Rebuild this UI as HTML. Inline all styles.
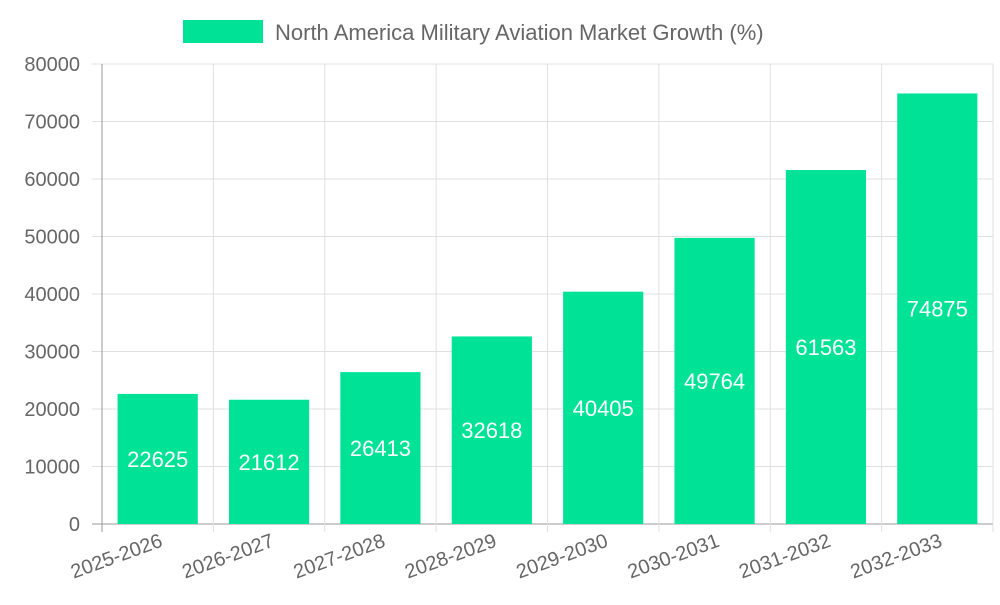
<!DOCTYPE html>
<html><head><meta charset="utf-8"><style>
body{margin:0;background:#fff;font-family:"Liberation Sans",sans-serif}
svg text{font-family:"Liberation Sans",sans-serif}
</style></head><body>
<svg id="c" width="1000" height="600">
<g>
<rect x="183" y="20" width="80" height="23" fill="#00e396"/>
<text x="275" y="40" font-size="22" fill="#666">North America Military Aviation Market Growth (%)</text>
</g>
</svg>
<script>
const categories=["2025-2026","2026-2027","2027-2028","2028-2029","2029-2030","2030-2031","2031-2032","2032-2033"];
const values=[22625,21612,26413,32618,40405,49764,61563,74875];
const yTicks=[0,10000,20000,30000,40000,50000,60000,70000,80000];
const svg=document.getElementById('c');
const NS='http://www.w3.org/2000/svg';
const L=102,R=993,T=64,B=524,yMax=80000;
const bw=(R-L)/categories.length;
const y=v=>B-(v/yMax)*(B-T);
const x=i=>L+bw*i;
function mk(t,a,p){const e=document.createElementNS(NS,t);for(const k in a)e.setAttribute(k,a[k]);(p||svg).appendChild(e);return e;}
const grid=mk('g',{});


yTicks.forEach(v=>{
 const l=mk('line',{x1:L-10,x2:R,y1:y(v),y2:y(v),stroke:v===0?'#999':'#e0e0e0','stroke-width':1},grid);
 
 
 const t=mk('text',{x:80,y:y(v)+7,'text-anchor':'end','font-size':20,fill:'#666'});
 t.textContent=v;
 
 
});
for(let i=0;i<=categories.length;i++){
 const l=mk('line',{x1:x(i),x2:x(i),y1:T,y2:B+8,stroke:i===0?'#999':'#e0e0e0','stroke-width':1},grid);
 
 
}
categories.forEach((c,i)=>{
 const cx=x(i)+bw/2, w=bw*0.72, v=values[i];
 const r=mk('rect',{x:cx-w/2,y:y(v),width:w,height:B-y(v),fill:'#00e396'});
 
 
 const t=mk('text',{x:cx,y:(y(v)+B)/2+8,'text-anchor':'middle','font-size':22,fill:'#fff'});
 t.textContent=v;
 
 
 const xl=mk('text',{x:cx+6,y:B+22,'text-anchor':'end','font-size':20,fill:'#666',transform:`rotate(-20 ${cx+6} ${B+22})`});
 xl.textContent=c;
 
 
});
</script>
</body></html>
